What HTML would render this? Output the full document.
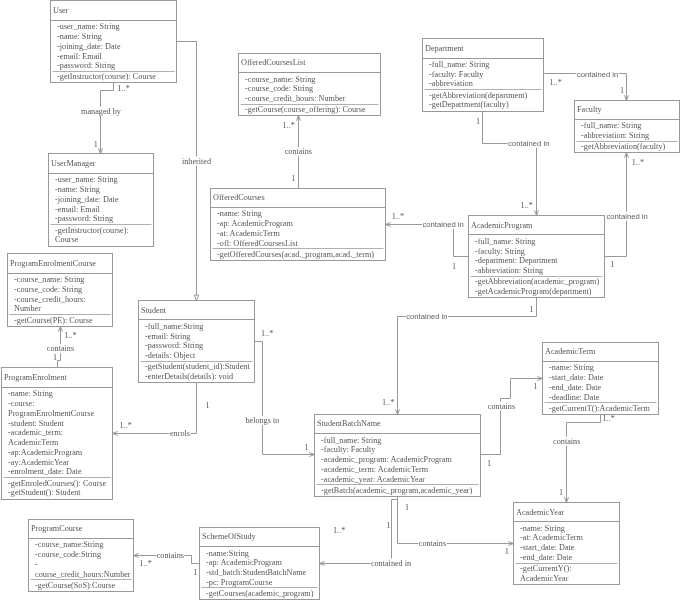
<!DOCTYPE html>
<html lang="en"><head><meta charset="utf-8"><title>Class Diagram</title>
<style>html,body{margin:0;padding:0;background:#fff}body{width:680px;height:602px;overflow:hidden}svg{display:block;filter:blur(0.45px)}text{font-family:"Liberation Serif","Times New Roman",serif;font-size:8.2px;fill:#565656}.s{font-family:"Liberation Sans",Arial,sans-serif;font-size:7.7px;fill:#606060}.b{fill:#fff;stroke:#989898;stroke-width:1}.l{fill:none;stroke:#989898;stroke-width:1}.d{stroke:#b0b0b0;stroke-width:1}.w{fill:#fff}</style></head><body>
<svg width="680" height="602" viewBox="0 0 680 602">
<rect class="w" x="0" y="0" width="680" height="602"/>
<g id="connectors">
<path class="l" d="M113.5 82.5 L113.5 90.5 L100.5 90.5 L100.5 153.5"/>
<path class="l" d="M98.5 148.3 L100.5 153.5 L102.5 148.3"/>
<path class="l" d="M176.5 41.5 L196.5 41.5 L196.5 295"/>
<path class="b" d="M196.5 300.5 L194.2 295 L198.8 295 Z"/>
<path class="l" d="M57.5 367.5 L57.5 360.5 L60.5 360.5 L60.5 326.5"/>
<path class="l" d="M62.5 331.7 L60.5 326.5 L58.5 331.7"/>
<path class="l" d="M196.5 382.5 L196.5 433.5 L112.5 433.5"/>
<path class="l" d="M117.7 431.5 L112.5 433.5 L117.7 435.5"/>
<path class="l" d="M254.5 341.5 L262.5 341.5 L262.5 454.5 L314.5 454.5"/>
<path class="l" d="M309.3 456.5 L314.5 454.5 L309.3 452.5"/>
<path class="l" d="M536.5 297.5 L536.5 316.5 L397.5 316.5 L397.5 414.5"/>
<path class="l" d="M395.5 409.3 L397.5 414.5 L399.5 409.3"/>
<path class="l" d="M480.5 454.5 L500.5 454.5 L500.5 398.5 L510.5 398.5 L510.5 378.5 L542.5 378.5"/>
<path class="l" d="M537.3 380.5 L542.5 378.5 L537.3 376.5"/>
<path class="l" d="M600.5 414.5 L600.5 422.5 L566.5 422.5 L566.5 502.5"/>
<path class="l" d="M564.5 497.3 L566.5 502.5 L568.5 497.3"/>
<path class="l" d="M397.5 496.5 L397.5 543.5 L513.5 543.5"/>
<path class="l" d="M508.3 545.5 L513.5 543.5 L508.3 541.5"/>
<path class="l" d="M397.5 499.5 L391.5 499.5 L391.5 563.5 L319.5 563.5"/>
<path class="l" d="M324.7 561.5 L319.5 563.5 L324.7 565.5"/>
<path class="l" d="M199.5 563.5 L191.5 563.5 L191.5 555.5 L133.5 555.5"/>
<path class="l" d="M138.7 553.5 L133.5 555.5 L138.7 557.5"/>
<path class="l" d="M298.5 188.5 L298.5 115.5"/>
<path class="l" d="M300.5 120.7 L298.5 115.5 L296.5 120.7"/>
<path class="l" d="M468.5 256.5 L453.5 256.5 L453.5 224.5 L385.5 224.5"/>
<path class="l" d="M390.7 222.5 L385.5 224.5 L390.7 226.5"/>
<path class="l" d="M482.5 111.5 L482.5 143.5 L536.5 143.5 L536.5 215.5"/>
<path class="l" d="M534.5 210.3 L536.5 215.5 L538.5 210.3"/>
<path class="l" d="M543.5 73.5 L626.5 73.5 L626.5 100.5"/>
<path class="l" d="M624.5 95.3 L626.5 100.5 L628.5 95.3"/>
<path class="l" d="M604.5 256.5 L626.5 256.5 L626.5 152.5"/>
<path class="l" d="M628.5 157.7 L626.5 152.5 L624.5 157.7"/>
</g>
<g id="labels">
<rect class="w" x="80.25" y="106.75" width="41.5" height="9"/>
<text x="101" y="113.85" text-anchor="middle">managed by</text>
<rect class="w" x="181" y="156.5" width="31" height="9"/>
<text x="196.5" y="163.6" text-anchor="middle">inherited</text>
<rect class="w" x="46.25" y="344.25" width="28.5" height="9"/>
<text x="60.5" y="351.35" text-anchor="middle">contains</text>
<rect class="w" x="169.5" y="429" width="21" height="9"/>
<text x="180" y="436.1" text-anchor="middle">enrols</text>
<rect class="w" x="245" y="416" width="34.75" height="9"/>
<text x="262.375" y="423.1" text-anchor="middle">belongs to</text>
<rect class="w" x="405.75" y="311.5" width="42.25" height="9"/>
<text class="s" x="426.875" y="318.6" text-anchor="middle">contained in</text>
<rect class="w" x="487.5" y="401.5" width="28" height="9"/>
<text x="501.5" y="408.6" text-anchor="middle">contains</text>
<rect class="w" x="552.5" y="436.75" width="28.5" height="9"/>
<text x="566.75" y="443.85" text-anchor="middle">contains</text>
<rect class="w" x="418.25" y="538.75" width="28.5" height="9"/>
<text x="432.5" y="545.85" text-anchor="middle">contains</text>
<rect class="w" x="370.75" y="558.5" width="40.5" height="9"/>
<text x="391" y="565.6" text-anchor="middle">contained in</text>
<rect class="w" x="156.5" y="551" width="27.75" height="9"/>
<text x="170.375" y="558.1" text-anchor="middle">contains</text>
<rect class="w" x="284.5" y="147.25" width="27.75" height="9"/>
<text x="298.375" y="154.35" text-anchor="middle">contains</text>
<rect class="w" x="422" y="219.75" width="42.25" height="9"/>
<text class="s" x="443.125" y="226.85" text-anchor="middle">contained in</text>
<rect class="w" x="507.5" y="139" width="42.5" height="9"/>
<text class="s" x="528.75" y="146.1" text-anchor="middle">contained in</text>
<rect class="w" x="576.5" y="69.5" width="42.25" height="9"/>
<text class="s" x="597.625" y="76.6" text-anchor="middle">contained in</text>
<rect class="w" x="606.25" y="211.75" width="41.75" height="9"/>
<text class="s" x="627.125" y="218.85" text-anchor="middle">contained in</text>
<text x="117.5" y="91.45">1..*</text>
<text x="93.75" y="147.2">1</text>
<text x="64.25" y="337.7">1..*</text>
<text x="53" y="360.2">1</text>
<text x="205.5" y="408.45">1</text>
<text x="119.5" y="428.2">1..*</text>
<text x="261" y="335.95">1..*</text>
<text x="304.5" y="450.2">1</text>
<text x="529.5" y="312.2">1</text>
<text x="382" y="405.2">1..*</text>
<text x="533.5" y="388.95">1</text>
<text x="487" y="465.95">1</text>
<rect class="w" x="602" y="414" width="12.5" height="8.5"/>
<text x="602.5" y="420.7">1..*</text>
<text x="559" y="495.2">1</text>
<text x="405" y="509.7">1</text>
<text x="504.75" y="553.95">1</text>
<text x="386.5" y="528.2">1</text>
<text x="333" y="532.7">1..*</text>
<text x="139.5" y="565.95">1..*</text>
<text x="193.25" y="575.2">1</text>
<text x="282.5" y="127.7">1..*</text>
<text x="291.5" y="181.45">1</text>
<text x="391.75" y="218.95">1..*</text>
<text x="452" y="269.45">1</text>
<text x="476" y="123.7">1</text>
<text x="520.5" y="207.7">1..*</text>
<text x="549.5" y="84.7">1..*</text>
<text x="620" y="93.2">1</text>
<text x="631.75" y="165.2">1..*</text>
<text x="610.25" y="266.95">1</text>
</g>
<g id="classes">
<g><rect class="b" x="50.5" y="0.5" width="126" height="82"/>
<line class="l" x1="50.5" y1="20.5" x2="176.5" y2="20.5"/>
<line class="d" x1="52.5" y1="71.5" x2="174.5" y2="71.5"/>
<text x="53" y="13.1">User</text>
<text x="57.1" y="29.25">-user_name: String</text>
<text x="57.1" y="39">-name: String</text>
<text x="57.1" y="48.75">-joining_date: Date</text>
<text x="57.1" y="58.5">-email: Email</text>
<text x="57.1" y="68.25">-password: String</text>
<text x="57.1" y="79.45">-getInstructor(course): Course</text>
</g>
<g><rect class="b" x="48.5" y="153.5" width="105" height="93"/>
<line class="l" x1="48.5" y1="173.5" x2="153.5" y2="173.5"/>
<line class="d" x1="50.5" y1="224.5" x2="151.5" y2="224.5"/>
<text x="51" y="166.18">UserManager</text>
<text x="55.1" y="182.33">-user_name: String</text>
<text x="55.1" y="192.08">-name: String</text>
<text x="55.1" y="201.83">-joining_date: Date</text>
<text x="55.1" y="211.58">-email: Email</text>
<text x="55.1" y="221.33">-password: String</text>
<text x="55.1" y="232.53">-getInstructor(course):</text>
<text x="55.1" y="242.28">Course</text>
</g>
<g><rect class="b" x="7.5" y="253.5" width="105" height="73"/>
<line class="l" x1="7.5" y1="273.5" x2="112.5" y2="273.5"/>
<line class="d" x1="9.5" y1="314.5" x2="110.5" y2="314.5"/>
<text x="10" y="266.05">ProgramEnrolmentCourse</text>
<text x="14.1" y="282.2">-course_name: String</text>
<text x="14.1" y="291.95">-course_code: String</text>
<text x="14.1" y="301.7">-course_credit_hours:</text>
<text x="14.1" y="311.45">Number</text>
<text x="14.1" y="322.65">-getCourse(PE): Course</text>
</g>
<g><rect class="b" x="1.5" y="367.5" width="111" height="132"/>
<line class="l" x1="1.5" y1="387.5" x2="112.5" y2="387.5"/>
<line class="d" x1="3.5" y1="477.5" x2="110.5" y2="477.5"/>
<text x="4" y="380.18">ProgramEnrolment</text>
<text x="8.1" y="396.32">-name: String</text>
<text x="8.1" y="406.07">-course:</text>
<text x="8.1" y="415.82">ProgramEnrolmentCourse</text>
<text x="8.1" y="425.57">-student: Student</text>
<text x="8.1" y="435.32">-academic_term:</text>
<text x="8.1" y="445.07">AcademicTerm</text>
<text x="8.1" y="454.82">-ap:AcademicProgram</text>
<text x="8.1" y="464.57">-ay:AcademicYear</text>
<text x="8.1" y="474.32">-enrolment_date: Date</text>
<text x="8.1" y="485.53">-getEnroledCourses(): Course</text>
<text x="8.1" y="495.28">-getStudent(): Student</text>
</g>
<g><rect class="b" x="138.5" y="300.5" width="116" height="82"/>
<line class="l" x1="138.5" y1="319.5" x2="254.5" y2="319.5"/>
<line class="d" x1="140.5" y1="361.5" x2="252.5" y2="361.5"/>
<text x="141" y="312.68">Student</text>
<text x="145.1" y="328.82">-full_name:String</text>
<text x="145.1" y="338.57">-email: String</text>
<text x="145.1" y="348.32">-password: String</text>
<text x="145.1" y="358.07">-details: Object</text>
<text x="145.1" y="369.28">-getStudent(student_id):Student</text>
<text x="145.1" y="379.03">-enterDetails(details): void</text>
</g>
<g><rect class="b" x="28.5" y="519.5" width="105" height="72"/>
<line class="l" x1="28.5" y1="538.5" x2="133.5" y2="538.5"/>
<line class="d" x1="30.5" y1="579.5" x2="131.5" y2="579.5"/>
<text x="31" y="531.3">ProgramCourse</text>
<text x="35.1" y="547.45">-course_name:String</text>
<text x="35.1" y="557.2">-course_code:String</text>
<text x="35.1" y="566.95">-</text>
<text x="35.1" y="576.7">course_credit_hours:Number</text>
<text x="35.1" y="587.9">-getCourse(SoS):Course</text>
</g>
<g><rect class="b" x="199.5" y="527.5" width="120" height="72"/>
<line class="l" x1="199.5" y1="546.5" x2="319.5" y2="546.5"/>
<line class="d" x1="201.5" y1="587.5" x2="317.5" y2="587.5"/>
<text x="202" y="539.42">SchemeOfStudy</text>
<text x="206.1" y="555.57">-name:String</text>
<text x="206.1" y="565.32">-ap: AcademicProgram</text>
<text x="206.1" y="575.07">-std_batch:StudentBatchName</text>
<text x="206.1" y="584.82">-pc: ProgramCourse</text>
<text x="206.1" y="596.02">-getCourses(academic_program)</text>
</g>
<g><rect class="b" x="238.5" y="53.5" width="142" height="62"/>
<line class="l" x1="238.5" y1="72.5" x2="380.5" y2="72.5"/>
<line class="d" x1="240.5" y1="104.5" x2="378.5" y2="104.5"/>
<text x="241" y="65.42">OfferedCoursesList</text>
<text x="245.1" y="81.58">-course_name: String</text>
<text x="245.1" y="91.33">-course_code: String</text>
<text x="245.1" y="101.08">-course_credit_hours: Number</text>
<text x="245.1" y="112.27">-getCourse(course_offering): Course</text>
</g>
<g><rect class="b" x="210.5" y="188.5" width="175" height="72"/>
<line class="l" x1="210.5" y1="207.5" x2="385.5" y2="207.5"/>
<line class="d" x1="212.5" y1="248.5" x2="383.5" y2="248.5"/>
<text x="213" y="200.3">OfferedCourses</text>
<text x="217.1" y="216.45">-name: String</text>
<text x="217.1" y="226.2">-ap: AcademicProgram</text>
<text x="217.1" y="235.95">-at: AcademicTerm</text>
<text x="217.1" y="245.7">-ofl: OfferedCoursesList</text>
<text x="217.1" y="256.9">-getOfferedCourses(acad._program,acad._term)</text>
</g>
<g><rect class="b" x="422.5" y="38.5" width="121" height="73"/>
<line class="l" x1="422.5" y1="58.5" x2="543.5" y2="58.5"/>
<line class="d" x1="424.5" y1="89.5" x2="541.5" y2="89.5"/>
<text x="425" y="50.8">Department</text>
<text x="429.1" y="66.95">-full_name: String</text>
<text x="429.1" y="76.7">-faculty: Faculty</text>
<text x="429.1" y="86.45">-abbreviation</text>
<text x="429.1" y="97.65">-getAbbreviation(department)</text>
<text x="429.1" y="107.4">-getDepartment(faculty)</text>
</g>
<g><rect class="b" x="574.5" y="100.5" width="105" height="52"/>
<line class="l" x1="574.5" y1="119.5" x2="679.5" y2="119.5"/>
<line class="d" x1="576.5" y1="141.5" x2="677.5" y2="141.5"/>
<text x="577" y="112.05">Faculty</text>
<text x="581.1" y="128.2">-full_name: String</text>
<text x="581.1" y="137.95">-abbreviation: String</text>
<text x="581.1" y="149.15">-getAbbreviation(faculty)</text>
</g>
<g><rect class="b" x="468.5" y="215.5" width="136" height="82"/>
<line class="l" x1="468.5" y1="234.5" x2="604.5" y2="234.5"/>
<line class="d" x1="470.5" y1="276.5" x2="602.5" y2="276.5"/>
<text x="471" y="227.68">AcademicProgram</text>
<text x="475.1" y="243.83">-full_name: String</text>
<text x="475.1" y="253.58">-faculty: String</text>
<text x="475.1" y="263.33">-department: Department</text>
<text x="475.1" y="273.08">-abbreviation: String</text>
<text x="475.1" y="284.28">-getAbbreviation(academic_program)</text>
<text x="475.1" y="294.03">-getAcademicProgram(department)</text>
</g>
<g><rect class="b" x="314.5" y="414.5" width="166" height="82"/>
<line class="l" x1="314.5" y1="433.5" x2="480.5" y2="433.5"/>
<line class="d" x1="316.5" y1="484.5" x2="478.5" y2="484.5"/>
<text x="317" y="426.43">StudentBatchName</text>
<text x="321.1" y="442.57">-full_name: String</text>
<text x="321.1" y="452.32">-faculty: Faculty</text>
<text x="321.1" y="462.07">-academic_program: AcademicProgram</text>
<text x="321.1" y="471.82">-academic_term: AcademicTerm</text>
<text x="321.1" y="481.57">-academic_year: AcademicYear</text>
<text x="321.1" y="492.78">-getBatch(academic_program,academic_year)</text>
</g>
<g><rect class="b" x="542.5" y="342.5" width="116" height="72"/>
<line class="l" x1="542.5" y1="361.5" x2="658.5" y2="361.5"/>
<line class="d" x1="544.5" y1="402.5" x2="656.5" y2="402.5"/>
<text x="545" y="354.18">AcademicTerm</text>
<text x="549.1" y="370.32">-name: String</text>
<text x="549.1" y="380.07">-start_date: Date</text>
<text x="549.1" y="389.82">-end_date: Date</text>
<text x="549.1" y="399.57">-deadline: Date</text>
<text x="549.1" y="410.78">-getCurrentT():AcademicTerm</text>
</g>
<g><rect class="b" x="513.5" y="502.5" width="106" height="82"/>
<line class="l" x1="513.5" y1="521.5" x2="619.5" y2="521.5"/>
<line class="d" x1="515.5" y1="563.5" x2="617.5" y2="563.5"/>
<text x="516" y="514.55">AcademicYear</text>
<text x="520.1" y="530.7">-name: String</text>
<text x="520.1" y="540.45">-at: AcademicTerm</text>
<text x="520.1" y="550.2">-start_date: Date</text>
<text x="520.1" y="559.95">-end_date: Date</text>
<text x="520.1" y="571.15">-getCurrentY():</text>
<text x="520.1" y="580.9">AcademicYear</text>
</g>
</g>
</svg></body></html>
